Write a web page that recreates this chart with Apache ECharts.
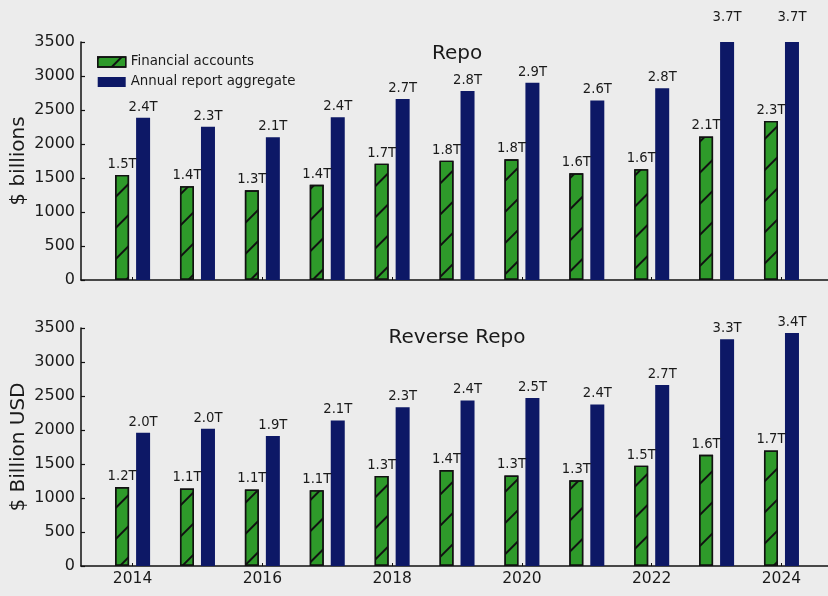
<!DOCTYPE html>
<html><head><meta charset="utf-8">
<script src="https://cdn.jsdelivr.net/npm/echarts@6/dist/echarts.min.js"></script>
<style>html,body{margin:0;padding:0;background:#ececec}#c{width:828px;height:596px}</style>
</head><body><div id="c"></div>
<script>
const years = [2014,2015,2016,2017,2018,2019,2020,2021,2022,2023,2024];
const repoFinancial = [1545,1380,1320,1400,1710,1755,1775,1570,1630,2110,2340];
const repoAnnual    = [2385,2255,2100,2395,2660,2780,2900,2640,2820,3700,3700];
const revFinancial  = [1160,1140,1125,1115,1325,1410,1330,1260,1475,1635,1700];
const revAnnual     = [1960,2020,1910,2140,2335,2435,2470,2375,2660,3335,3425];
const xTickYears = [2014,2016,2018,2020,2022,2024];
const titles = ['Repo','Reverse Repo'];
const yNames = ['$ billions','$ Billion USD'];
const seriesNames = ['Financial accounts','Annual report aggregate'];
const yMax = 3500;

const FONT = 'DejaVu Sans';
const GREEN = '#2e9a2a';
const NAVY = '#0d1866';
const HATCH = {symbol:'rect', symbolSize:1, dashArrayX:[1,0], dashArrayY:[1.8,20],
  rotation:-Math.PI/4, color:'#111'};
const LEGEND_HATCH = {symbol:'rect', symbolSize:1, dashArrayX:[1,0], dashArrayY:[1.8,14],
  rotation:-Math.PI/4, color:'#111'};

const chart = echarts.init(document.getElementById('c'), null, {renderer:'canvas'});

function fmt(p){ return (p.value[1]/1000).toFixed(1)+'T'; }

function mkData(vals, offsets){
  return vals.map((v,i)=>{
    const d = {value:[years[i], v]};
    if (offsets && offsets[i]) d.label = {offset:[0, offsets[i]]};
    return d;
  });
}

function mkSeries(name, vals, gi, green, offsets){
  return {
    type:'bar', name:name, xAxisIndex:gi, yAxisIndex:gi,
    barWidth:14, barGap:'50%', clip:true,
    data: mkData(vals, offsets),
    label:{show:true, position:'top', distance:4, formatter:fmt,
      fontFamily:FONT, fontSize:13.2, color:'#1a1a1a'},
    itemStyle: green ? {color:GREEN, borderColor:'#111', borderWidth:1.4, decal:HATCH}
                     : {color:NAVY},
    emphasis:{disabled:true}
  };
}

function buildSeries(offs){
  offs = offs || {};
  return [
    mkSeries(seriesNames[0], repoFinancial, 0, true, offs.a),
    mkSeries(seriesNames[1], repoAnnual, 0, false, offs.b),
    mkSeries(seriesNames[0], revFinancial, 1, true, offs.c),
    mkSeries(seriesNames[1], revAnnual, 1, false, offs.d)
  ];
}

const grids = [
  {left:81, right:0, top:42, height:238, outerBoundsMode:'none', containLabel:false},
  {left:81, right:0, top:328, height:238, outerBoundsMode:'none', containLabel:false}
];

const xAxes = [0,1].map(i=>({
  type:'value', gridIndex:i, min:2013.205, max:2024.717,
  splitLine:{show:false},
  axisLine:{show:true, lineStyle:{color:'#111', width:1.5}},
  axisTick:{show:true, inside:true, length:3, customValues:xTickYears, lineStyle:{color:'#111'}},
  axisLabel:{show:i===1, customValues:xTickYears, formatter:v=>String(v),
    fontFamily:FONT, fontSize:15.5, color:'#1a1a1a', margin:5}
}));

const yAxes = [0,1].map(i=>({
  type:'value', gridIndex:i, min:0, max:yMax, interval:500,
  name:yNames[i], nameLocation:'middle', nameGap:52, nameMoveOverlap:false,
  nameTextStyle:{fontFamily:FONT, fontSize:20, color:'#1a1a1a'},
  splitLine:{show:false},
  axisLine:{show:true, lineStyle:{color:'#111', width:1.5}},
  axisTick:{show:true, inside:true, length:4, lineStyle:{color:'#111', width:1.2}},
  axisLabel:{fontFamily:FONT, fontSize:16, color:'#1a1a1a', margin:6, formatter:v=>String(v)}
}));

const option = {
  backgroundColor:'#ececec',
  animation:false,
  title: titles.map((t,i)=>({text:t, left:452, top:i===0?39:323, textAlign:'center',
    textStyle:{fontFamily:FONT, fontSize:20, fontWeight:'normal', color:'#1a1a1a'}})),
  legend:{left:92, top:50, orient:'vertical', itemWidth:28, itemHeight:10, itemGap:6,
    icon:'rect', selectedMode:false,
    data:[{name:seriesNames[0], itemStyle:{color:GREEN, borderColor:'#111', borderWidth:1.4, decal:LEGEND_HATCH}},
          {name:seriesNames[1]}],
    textStyle:{fontFamily:FONT, fontSize:13.4, color:'#1a1a1a', lineHeight:14}},
  grid:grids, xAxis:xAxes, yAxis:yAxes,
  series: buildSeries()
};
chart.setOption(option);

// labels of bars clipped at the axis top are lifted to where their value would sit
function liftOffsets(vals, gi){
  const top = chart.convertToPixel({yAxisIndex:gi}, yMax);
  return vals.map(v => v > yMax ? chart.convertToPixel({yAxisIndex:gi}, v) - top : 0);
}
chart.setOption({series: buildSeries({
  a: liftOffsets(repoFinancial,0), b: liftOffsets(repoAnnual,0),
  c: liftOffsets(revFinancial,1), d: liftOffsets(revAnnual,1)
})});
</script></body></html>
